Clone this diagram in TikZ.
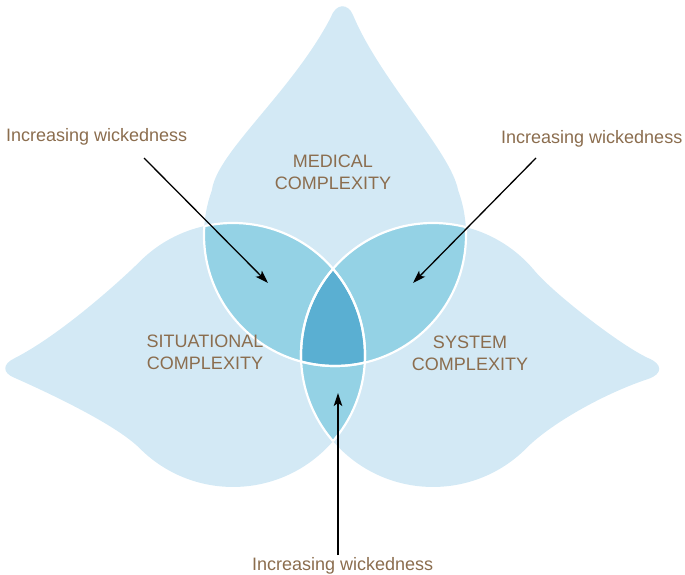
\documentclass[tikz,border=0pt]{standalone}
\usepackage{fontspec}
\setmainfont{Liberation Sans}
\usetikzlibrary{arrows.meta}
\definecolor{lightblue}{RGB}{211,233,245}
\definecolor{midblue}{RGB}{148,210,229}
\definecolor{darkblue}{RGB}{90,175,210}
\definecolor{txtbrown}{RGB}{139,109,78}
\tikzset{
  region/.style={fill=lightblue},
  whiteline/.style={draw=white, line width=2.2pt},
  lbl/.style={text=txtbrown, inner sep=0pt, align=center, font=\fontsize{18}{22}\selectfont},
  wick/.style={text=txtbrown, inner sep=0pt, font=\fontsize{18}{22}\selectfont},
  arr/.style={draw=black, line width=1.3pt, -{Stealth[length=13pt,width=8.5pt,inset=3pt]}}
}
\begin{document}
\begin{tikzpicture}[x=1pt,y=1pt]
\useasboundingbox (0,-575) rectangle (685,0);
% circle centres
\coordinate (T) at (335,-235);
\coordinate (L) at (233,-355);
\coordinate (R) at (433,-355);
% teardrop regions
\fill[region] (211.9,-190.2) .. controls (217,-152) and (292,-92) .. (331,-17)
  .. controls (336,-3) and (348,-3) .. (353,-15)
  .. controls (380,-80) and (451,-152) .. (458.1,-190.2)
  arc[start angle=20, end angle=-200, radius=131] -- cycle;
\fill[region] (139.7,-261.7) .. controls (118,-283) and (60,-335) .. (15,-358)
  .. controls (2,-364) and (2,-373) .. (15,-378)
  .. controls (60,-398) and (118,-426.6) .. (139.7,-448.3)
  arc[start angle=225, end angle=495, radius=132] -- cycle;
\fill[region] (534.1,-270.2) .. controls (553,-293) and (620,-345) .. (648,-358)
  .. controls (663,-364) and (663,-374) .. (648,-379)
  .. controls (600,-395) and (548,-426) .. (526.3,-448.3)
  arc[start angle=-45, end angle=-320, radius=132] -- cycle;
% pairwise overlaps
\begin{scope}
  \clip (T) circle[radius=131];
  \fill[midblue] (L) circle[radius=132];
  \fill[midblue] (R) circle[radius=132];
\end{scope}
\begin{scope}
  \clip (L) circle[radius=132];
  \fill[midblue] (R) circle[radius=132];
\end{scope}
% triple overlap
\begin{scope}
  \clip (T) circle[radius=131];
  \clip (L) circle[radius=132];
  \fill[darkblue] (R) circle[radius=132];
\end{scope}
% white borders
\begin{scope}
  \clip (T) circle[radius=131];
  \draw[whiteline] (L) circle[radius=132];
  \draw[whiteline] (R) circle[radius=132];
\end{scope}
\begin{scope}
  \clip (L) circle[radius=132];
  \draw[whiteline] (T) circle[radius=131];
  \draw[whiteline] (R) circle[radius=132];
\end{scope}
\begin{scope}
  \clip (R) circle[radius=132];
  \draw[whiteline] (T) circle[radius=131];
  \draw[whiteline] (L) circle[radius=132];
\end{scope}
% region labels
\node[lbl] (med) at (333,-172.5) {MEDICAL\\COMPLEXITY};
\node[lbl] (sit) at (205,-352.5) {SITUATIONAL\\COMPLEXITY};
\node[lbl] (sys) at (470,-353) {SYSTEM\\COMPLEXITY};
% wickedness labels
\node[wick, anchor=base west] (wl) at (6,-141.7) {Increasing wickedness};
\node[wick, anchor=base west] (wr) at (501,-143.3) {Increasing wickedness};
\node[wick, anchor=base west] (wb) at (252,-570.7) {Increasing wickedness};
% arrows
\coordinate (a1s) at (144,-158);
\coordinate (a1e) at (268,-283);
\coordinate (a2s) at (536,-158);
\coordinate (a2e) at (413,-283);
\coordinate (a3s) at (338,-555);
\coordinate (a3e) at (338,-393);
\draw[arr] (a1s) -- (a1e);
\draw[arr] (a2s) -- (a2e);
\draw[arr] (a3s) -- (a3e);
\end{tikzpicture}
\end{document}
